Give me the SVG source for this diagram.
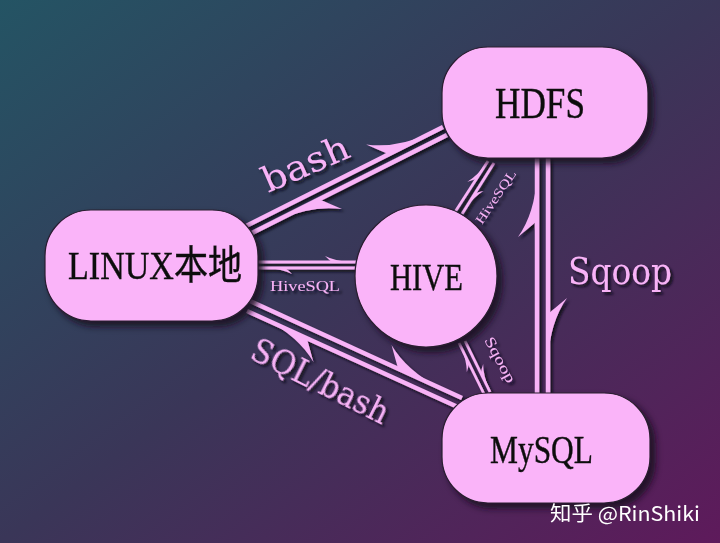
<svg xmlns="http://www.w3.org/2000/svg" xmlns:xlink="http://www.w3.org/1999/xlink" width="720" height="543" viewBox="0 0 720 543">
<defs>
<linearGradient id="bg" x1="0" y1="0" x2="1" y2="1">
<stop offset="0" stop-color="#245464"/>
<stop offset="0.5" stop-color="#3a3658"/>
<stop offset="1" stop-color="#5e1a5b"/>
</linearGradient>
<filter id="sh" x="-20%" y="-20%" width="140%" height="140%">
<feDropShadow dx="2.5" dy="2.5" stdDeviation="1.3" flood-color="#0e0918" flood-opacity="0.9"/>
</filter>
<filter id="nsh" x="-20%" y="-20%" width="140%" height="140%">
<feDropShadow dx="5" dy="5" stdDeviation="3" flood-color="#120a1c" flood-opacity="0.85"/>
</filter>
<path id="finB" d="M0,0 Q-38,-2 -62,-19 Q-52,-7 -46,0 Z"/>
<path id="finS" d="M0,0 Q-15,-1 -25,-6 Q-21,-2 -18,0 Z"/>
</defs>
<style>
.ln{stroke:#f8b3f7;fill:none;stroke-width:4.5}
.sl{stroke:#f8b3f7;fill:none;stroke-width:2.8}
.fin{fill:#f8b3f7}
.node{fill:#fab4f9;stroke:#2a1e30;stroke-width:1.2}
.nt{font-family:"Liberation Serif","Noto Sans CJK SC",serif;fill:#111;stroke:#111;stroke-width:0.4}
.el{font-family:"DejaVu Serif","Liberation Serif",serif;fill:#f8b3f7}
.es{font-family:"Liberation Serif",serif;fill:#f8b3f7}
</style>
<rect x="0" y="0" width="720" height="543" fill="url(#bg)"/>

<g id="connectors" filter="url(#sh)">
<!-- LINUX - HDFS -->
<line class="ln" x1="244" y1="227" x2="443" y2="127"/>
<use href="#finB" class="fin" transform="translate(430,133.5) rotate(-26.7)"/>
<line class="ln" x1="447" y1="135" x2="248" y2="235"/>
<use href="#finB" class="fin" transform="translate(278,220) rotate(153.3)"/>
<!-- LINUX - HIVE -->
<line class="sl" x1="258" y1="262" x2="356" y2="262"/>
<use href="#finS" class="fin" transform="translate(350,262) rotate(0)"/>
<line class="sl" x1="356" y1="268" x2="258" y2="268"/>
<use href="#finS" class="fin" transform="translate(267,268) rotate(180)"/>
<!-- LINUX - MySQL -->
<line class="ln" x1="250" y1="301" x2="462" y2="398"/>
<use href="#finB" class="fin" transform="translate(440,388) rotate(24.6)"/>
<line class="ln" x1="460" y1="408" x2="247" y2="311"/>
<use href="#finB" class="fin" transform="translate(265,319) rotate(-155.4)"/>
<!-- HDFS - MySQL -->
<line class="ln" x1="537" y1="393" x2="537" y2="157"/>
<use href="#finB" class="fin" transform="translate(537,175) rotate(-90)"/>
<line class="ln" x1="548" y1="157" x2="548" y2="393"/>
<use href="#finB" class="fin" transform="translate(548,360) rotate(90)"/>
<!-- HIVE - HDFS -->
<line class="sl" x1="455" y1="212" x2="488" y2="161"/>
<use href="#finS" class="fin" transform="translate(486,164) rotate(-57.1)"/>
<line class="sl" x1="494" y1="163" x2="462" y2="214"/>
<use href="#finS" class="fin" transform="translate(465,209) rotate(122.1)"/>
<!-- HIVE - MySQL -->
<line class="sl" x1="484" y1="394" x2="459" y2="343"/>
<use href="#finS" class="fin" transform="translate(461,347) rotate(-116.6)"/>
<line class="sl" x1="465" y1="341" x2="490" y2="392"/>
<use href="#finS" class="fin" transform="translate(489,389) rotate(63.4)"/>
</g>

<g id="edge-labels" filter="url(#sh)">
<text class="el" font-size="35" textLength="92" lengthAdjust="spacingAndGlyphs" transform="translate(268,193) rotate(-23.5)">bash</text>
<text class="el" font-size="33" textLength="150" lengthAdjust="spacingAndGlyphs" transform="translate(248,358) rotate(26.5)">SQL/bash</text>
<text class="el" x="568" y="284" font-size="37" textLength="104" lengthAdjust="spacingAndGlyphs">Sqoop</text>
<text class="es" x="270" y="291" font-size="15" textLength="70" lengthAdjust="spacingAndGlyphs">HiveSQL</text>
<text class="es" font-size="13" textLength="62" lengthAdjust="spacingAndGlyphs" transform="translate(482,225) rotate(-56)">HiveSQL</text>
<text class="es" font-size="15" textLength="50" lengthAdjust="spacingAndGlyphs" transform="translate(484,340) rotate(62)">Sqoop</text>
</g>

<g id="node-hdfs" filter="url(#nsh)">
<rect class="node" x="442" y="47" width="206" height="111" rx="46"/>
<text class="nt" x="495" y="118" font-size="44" textLength="90" lengthAdjust="spacingAndGlyphs">HDFS</text>
</g>
<g id="node-linux" filter="url(#nsh)">
<rect class="node" x="45" y="210" width="213" height="111" rx="46"/>
<text class="nt" x="68" y="279" font-size="40" textLength="174" lengthAdjust="spacingAndGlyphs">LINUX本地</text>
</g>
<g id="node-hive" filter="url(#nsh)">
<circle class="node" cx="426" cy="276" r="71"/>
<text class="nt" x="390" y="290" font-size="37" textLength="73" lengthAdjust="spacingAndGlyphs">HIVE</text>
</g>
<g id="node-mysql" filter="url(#nsh)">
<rect class="node" x="442" y="393" width="208" height="110" rx="46"/>
<text class="nt" x="490" y="463" font-size="40" textLength="103" lengthAdjust="spacingAndGlyphs">MySQL</text>
</g>

<text x="550" y="521" font-family="Noto Sans CJK SC, Noto Sans, sans-serif" font-size="20" fill="#ffffff" textLength="150" lengthAdjust="spacingAndGlyphs">知乎 @RinShiki</text>
</svg>
